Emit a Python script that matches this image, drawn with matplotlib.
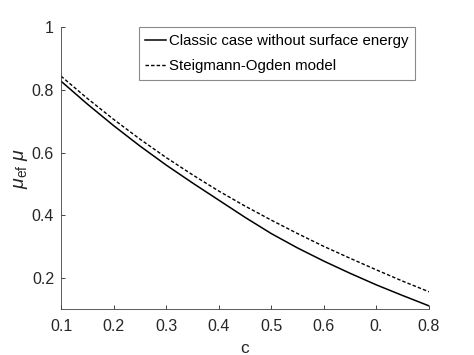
import matplotlib
matplotlib.use('Agg')
import matplotlib.pyplot as plt

c = [0.1, 0.15, 0.2, 0.25, 0.3, 0.35, 0.4, 0.45, 0.5, 0.55, 0.6, 0.65, 0.7, 0.75, 0.8]
classic = [0.828, 0.755, 0.686, 0.621, 0.560, 0.503, 0.448, 0.393, 0.341, 0.295,
           0.253, 0.214, 0.177, 0.143, 0.110]
steigmann = [0.844, 0.773, 0.706, 0.643, 0.584, 0.529, 0.477, 0.429, 0.384, 0.341,
             0.300, 0.262, 0.225, 0.189, 0.155]
xticks = [0.1, 0.2, 0.3, 0.4, 0.5, 0.6, 0.7, 0.8]
xticklabels = ['0.1', '0.2', '0.3', '0.4', '0.5', '0.6', '0.', '0.8']
yticks = [0.2, 0.4, 0.6, 0.8, 1.0]
yticklabels = ['0.2', '0.4', '0.6', '0.8', '1']

plt.rcParams['font.family'] = ['Liberation Sans', 'DejaVu Sans']
plt.rcParams['mathtext.fontset'] = 'custom'
plt.rcParams['mathtext.it'] = 'Liberation Sans:italic'
plt.rcParams['mathtext.rm'] = 'Liberation Sans'

fig = plt.figure(figsize=(4.74, 3.55), dpi=100)
ax = fig.add_axes([0.1287, 0.1296, 0.7763, 0.7934])

ax.plot(c, classic, color='black', lw=1.1, label='Classic case without surface energy')
ax.plot(c, steigmann, color='black', lw=1.0, linestyle=(0, (2.5, 1.5)),
        label='Steigmann-Ogden model')

ax.set_xlim(0.1, 0.8)
ax.set_ylim(0.1, 1.0)
ax.set_xticks(xticks)
ax.set_xticklabels(xticklabels)
ax.set_yticks(yticks)
ax.set_yticklabels(yticklabels)

for s in ['top', 'right']:
    ax.spines[s].set_visible(False)
for s in ['left', 'bottom']:
    ax.spines[s].set_color('#404040')
    ax.spines[s].set_linewidth(0.6)
ax.tick_params(direction='in', length=3, width=0.6, colors='#262626',
               labelsize=11.5, pad=7)
ax.tick_params(axis='y', pad=5)

ax.set_xlabel('c', fontsize=12.5, color='#262626', labelpad=5)
ax.set_ylabel(r'$\mu_{\rm ef}\ \mu$', fontsize=14, color='#262626', labelpad=1)

leg = ax.legend(loc='upper right', bbox_to_anchor=(0.962, 1.0), fontsize=10.8,
                handlelength=1.4, handletextpad=0.15, borderpad=0.45,
                borderaxespad=0, labelspacing=0.75, fancybox=False, framealpha=1)
leg.get_frame().set_edgecolor('#8a8a8a')
leg.get_frame().set_linewidth(0.8)

fig.savefig('out.png', dpi=100)
